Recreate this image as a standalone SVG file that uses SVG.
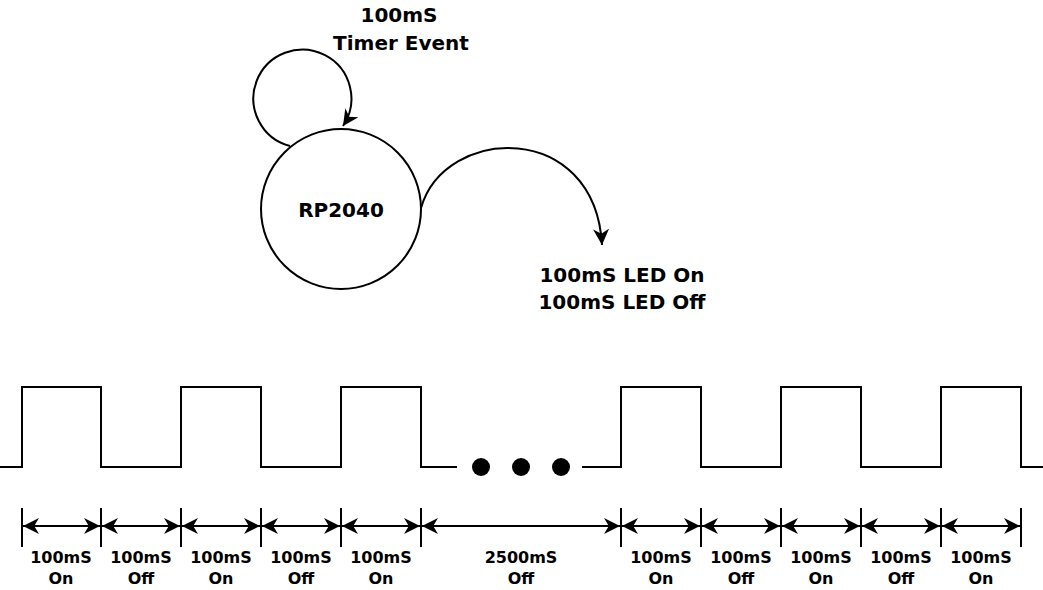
<svg xmlns="http://www.w3.org/2000/svg" width="1043" height="590" viewBox="0 0 1043 590">
<style>
.l{fill:none;stroke:#000;stroke-width:2}
.t{font-family:"DejaVu Sans",Verdana,sans-serif;font-weight:bold;fill:#000;text-anchor:middle}
.big{font-size:20px}
.sm{font-size:16px}
</style>
<defs>
<marker id="a" viewBox="0 0 10 10" refX="10" refY="5" markerWidth="8" markerHeight="8" orient="auto-start-reverse" markerUnits="strokeWidth"><path d="M0,0L10,5L0,10L3,5Z" fill="#000"/></marker>
</defs>
<rect width="1043" height="590" fill="#fff"/>
<g id="rp2040"><circle class="l" cx="341" cy="209" r="80"/><text class="t big" x="341" y="217">RP2040</text></g>
<g id="timer"><text class="t big" x="399" y="22">100mS</text><text class="t big" x="401" y="50">Timer Event</text></g>
<g id="led"><text class="t big" x="622" y="282">100mS LED On</text><text class="t big" x="622" y="309">100mS LED Off</text></g>
<g id="connectors">
<path class="l" d="M290,146 A49,49 0 1 1 343,126" marker-end="url(#a)"/>
<path class="l" d="M421,208 C445,125 595,120 602,245" marker-end="url(#a)"/>
</g>
<g id="waveform">
<path class="l" d="M0,467H22V387H101V467H181V387H261V467H341V387H421V467H457"/>
<path class="l" d="M582,467H621V387H701V467H781V387H861V467H941V387H1021V467H1043"/>
<circle cx="481" cy="467" r="9"/><circle cx="521" cy="467" r="9"/><circle cx="561" cy="467" r="9"/>
</g>
<g id="dims" class="l">
<path d="M22,508V547M101,508V547M181,508V547M261,508V547M341,508V547M421,508V547M621,508V547M701,508V547M781,508V547M861,508V547M941,508V547M1021,508V547"/>
<path d="M23,526H100" marker-start="url(#a)" marker-end="url(#a)"/>
<path d="M102,526H180" marker-start="url(#a)" marker-end="url(#a)"/>
<path d="M182,526H260" marker-start="url(#a)" marker-end="url(#a)"/>
<path d="M262,526H340" marker-start="url(#a)" marker-end="url(#a)"/>
<path d="M342,526H420" marker-start="url(#a)" marker-end="url(#a)"/>
<path d="M422,526H620" marker-start="url(#a)" marker-end="url(#a)"/>
<path d="M622,526H700" marker-start="url(#a)" marker-end="url(#a)"/>
<path d="M702,526H780" marker-start="url(#a)" marker-end="url(#a)"/>
<path d="M782,526H860" marker-start="url(#a)" marker-end="url(#a)"/>
<path d="M862,526H940" marker-start="url(#a)" marker-end="url(#a)"/>
<path d="M942,526H1020" marker-start="url(#a)" marker-end="url(#a)"/>
</g>
<g id="labels" class="t sm">
<text x="61" y="563">100mS</text><text x="61" y="584">On</text>
<text x="141" y="563">100mS</text><text x="141" y="584">Off</text>
<text x="221" y="563">100mS</text><text x="221" y="584">On</text>
<text x="301" y="563">100mS</text><text x="301" y="584">Off</text>
<text x="381" y="563">100mS</text><text x="381" y="584">On</text>
<text x="521" y="563">2500mS</text><text x="521" y="584">Off</text>
<text x="661" y="563">100mS</text><text x="661" y="584">On</text>
<text x="741" y="563">100mS</text><text x="741" y="584">Off</text>
<text x="821" y="563">100mS</text><text x="821" y="584">On</text>
<text x="901" y="563">100mS</text><text x="901" y="584">Off</text>
<text x="981" y="563">100mS</text><text x="981" y="584">On</text>
</g>
</svg>
